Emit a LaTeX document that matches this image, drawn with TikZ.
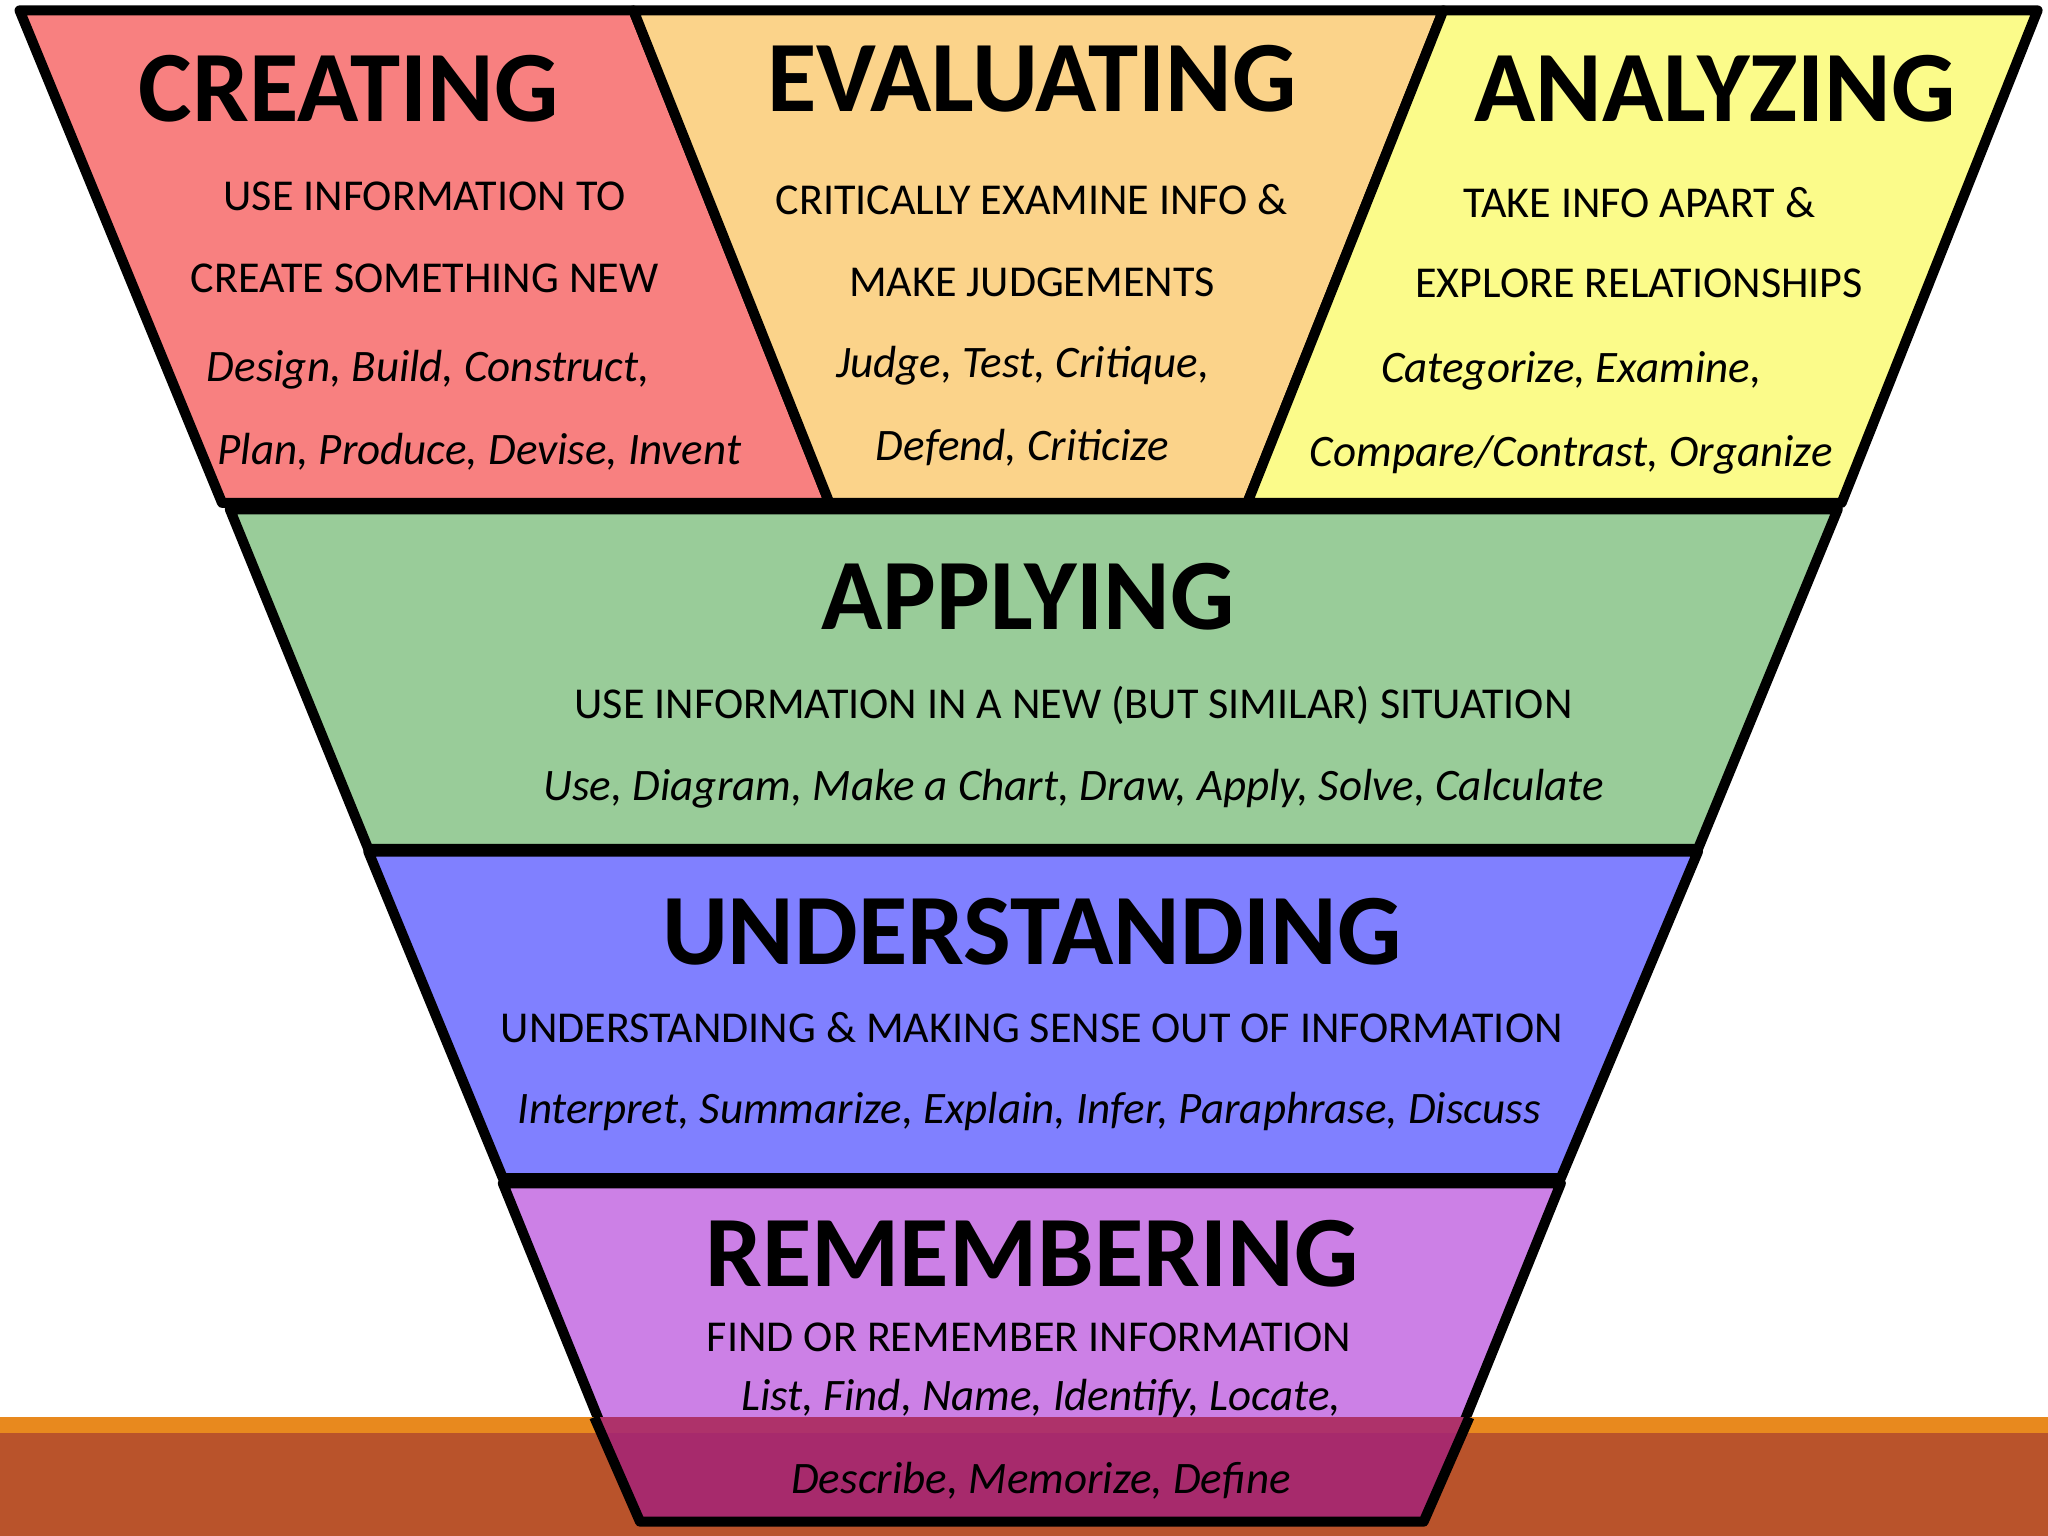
\documentclass[tikz,border=0pt]{standalone}
\usepackage{fontspec}
\setmainfont{Carlito}
\definecolor{cR}{RGB}{248,128,128}
\definecolor{cE}{RGB}{251,211,138}
\definecolor{cA}{RGB}{251,251,138}
\definecolor{cP}{RGB}{153,204,153}
\definecolor{cU}{RGB}{128,128,255}
\definecolor{cM}{RGB}{204,128,230}
\definecolor{cO}{RGB}{232,137,30}
\definecolor{cB}{RGB}{185,83,43}
\definecolor{cMB}{RGB}{165,35,120}
\begin{document}
\begin{tikzpicture}[x=0.01cm,y=-0.01cm,line join=round,
  band/.style={draw=black,line width=2.2pt},
  ttl/.style={font=\fontsize{22}{24}\selectfont\bfseries},
  sub/.style={font=\fontsize{9.6}{11}\selectfont},
  verbs/.style={font=\fontsize{9.8}{11}\selectfont\itshape}]
\useasboundingbox (0,0) rectangle (1568,1176);
\fill[white] (0,0) rectangle (1568,1176);
\filldraw[band,fill=cR] (15,8)--(485,8)--(635,385)--(170,385)--cycle;
\filldraw[band,fill=cE] (485,8)--(1105,8)--(955,385)--(635,385)--cycle;
\filldraw[band,fill=cA] (1105,8)--(1560,8)--(1410,385)--(955,385)--cycle;
\filldraw[band,fill=cP] (176,390)--(1407,390)--(1300,650)--(282,650)--cycle;
\filldraw[band,fill=cU] (282,652)--(1300,652)--(1195,902)--(385,902)--cycle;
\filldraw[band,fill=cM] (385,906)--(1195,906)--(1090,1165)--(490,1165)--cycle;
\fill[cO] (0,1085) rectangle (1568,1097);
\fill[cB] (0,1097) rectangle (1568,1176);
\fill[cMB,opacity=0.85] (455,1085)--(1125,1085)--(1090,1165)--(490,1165)--cycle;
\draw[band] (455,1085)--(490,1165)--(1090,1165)--(1125,1085);
\node[ttl] (c) at (267,68) {CREATING};
\node[sub] (c1) at (325,150) {USE INFORMATION TO};
\node[sub] (c2) at (325,213) {CREATE SOMETHING NEW};
\node[verbs] (c3) at (328,283) {Design, Build, Construct,};
\node[verbs] (c4) at (367,346) {Plan, Produce, Devise, Invent};
\node[ttl] (e) at (790,60) {EVALUATING};
\node[sub] (e1) at (790,153) {CRITICALLY EXAMINE INFO \&};
\node[sub] (e2) at (790,216) {MAKE JUDGEMENTS};
\node[verbs] (e3) at (783,280) {Judge, Test, Critique,};
\node[verbs] (e4) at (783,343) {Defend, Criticize};
\node[ttl] (a) at (1313,68) {ANALYZING};
\node[sub] (a1) at (1255,155) {TAKE INFO APART \&};
\node[sub] (a2) at (1255,217) {EXPLORE RELATIONSHIPS};
\node[verbs] (a3) at (1203,284) {Categorize, Examine,};
\node[verbs] (a4) at (1203,348) {Compare/Contrast, Organize};
\node[ttl] (p) at (787,457) {APPLYING};
\node[sub] (p1) at (822,540) {USE INFORMATION IN A NEW (BUT SIMILAR) SITUATION};
\node[verbs] (p2) at (822,604) {Use, Diagram, Make a Chart, Draw, Apply, Solve, Calculate};
\node[ttl] (u) at (790,713) {UNDERSTANDING};
\node[sub] (u1) at (790,787) {UNDERSTANDING \& MAKING SENSE OUT OF INFORMATION};
\node[verbs] (u2) at (788,851) {Interpret, Summarize, Explain, Infer, Paraphrase, Discuss};
\node[ttl] (r) at (790,960) {REMEMBERING};
\node[sub] (r1) at (788,1024) {FIND OR REMEMBER INFORMATION};
\node[verbs] (r2) at (797,1071) {List, Find, Name, Identify, Locate,};
\node[verbs] (r3) at (797,1134) {Describe, Memorize, Define};
\end{tikzpicture}
\end{document}
